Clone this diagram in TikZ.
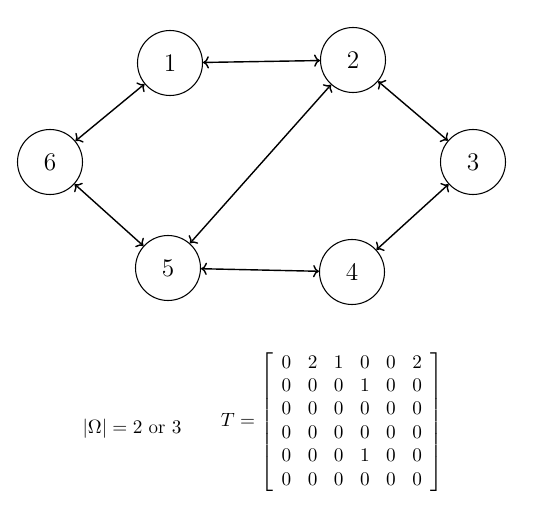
\documentclass[tikz,border=0pt]{standalone}
\usepackage{amsmath,amssymb}
\usepackage{tikz}
\usetikzlibrary{arrows.meta,positioning}

\begin{document}
\begin{tikzpicture}[
    vertex/.style={circle, draw, semithick, minimum size=1.3cm, inner sep=0pt, font=\Large},
    link/.style={<->, thick},
    formula/.style={font=\fontsize{11}{13.3}\selectfont},
    >=To
]
\useasboundingbox (0,0) rectangle (10.68,-10.48);
\node[vertex] (n1) at (3.40,-1.26) {1};
\node[vertex] (n2) at (7.06,-1.20) {2};
\node[vertex] (n3) at (9.46,-3.24) {3};
\node[vertex] (n4) at (7.04,-5.44) {4};
\node[vertex] (n5) at (3.36,-5.36) {5};
\node[vertex] (n6) at (1.00,-3.24) {6};

\draw[link] (n1) -- (n2);
\draw[link] (n2) -- (n3);
\draw[link] (n3) -- (n4);
\draw[link] (n4) -- (n5);
\draw[link] (n5) -- (n6);
\draw[link] (n6) -- (n1);
\draw[link] (n2) -- (n5);

% size of the cut and transition counts
\node[formula] (omega) at (2.64,-8.58) {$|\Omega| = 2 \text{ or } 3$};
\node[formula] (tmat) at (6.64,-8.44) {\setlength{\arraycolsep}{4.7pt}%
$T = \left[\begin{array}{cccccc}
0 & 2 & 1 & 0 & 0 & 2\\
0 & 0 & 0 & 1 & 0 & 0\\
0 & 0 & 0 & 0 & 0 & 0\\
0 & 0 & 0 & 0 & 0 & 0\\
0 & 0 & 0 & 1 & 0 & 0\\
0 & 0 & 0 & 0 & 0 & 0
\end{array}\right]$};
\end{tikzpicture}
\end{document}
